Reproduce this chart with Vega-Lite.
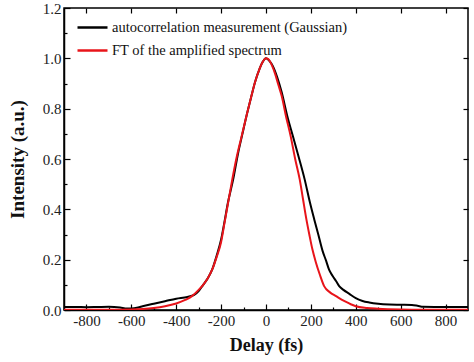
{
  "$schema": "https://vega.github.io/schema/vega-lite/v6.json",
  "width": 404,
  "height": 302,
  "autosize": "none",
  "padding": {"left": 64, "top": 8, "right": 6, "bottom": 52},
  "background": "white",
  "config": {
    "view": {"stroke": "black", "strokeWidth": 1.5},
    "font": "Liberation Serif",
    "axis": {"grid": false, "domainColor": "black", "domainWidth": 1.5, "tickColor": "black", "tickWidth": 1.2, "labelFont": "Liberation Serif", "labelColor": "#222", "titleFont": "Liberation Serif", "titleColor": "#111"}
  },
  "datasets": {
    "ac": [
      {"t": -900, "v": 0.012}, {"t": -850, "v": 0.012}, {"t": -800, "v": 0.011}, {"t": -750, "v": 0.012}, {"t": -700, "v": 0.013},
      {"t": -650, "v": 0.010}, {"t": -620, "v": 0.006}, {"t": -600, "v": 0.006}, {"t": -570, "v": 0.010}, {"t": -550, "v": 0.015},
      {"t": -500, "v": 0.025}, {"t": -450, "v": 0.035}, {"t": -400, "v": 0.045}, {"t": -350, "v": 0.052}, {"t": -320, "v": 0.060},
      {"t": -300, "v": 0.075}, {"t": -280, "v": 0.100}, {"t": -260, "v": 0.125}, {"t": -240, "v": 0.160}, {"t": -220, "v": 0.215},
      {"t": -200, "v": 0.280}, {"t": -185, "v": 0.350}, {"t": -170, "v": 0.425}, {"t": -146, "v": 0.520}, {"t": -125, "v": 0.620},
      {"t": -105, "v": 0.700}, {"t": -86, "v": 0.775}, {"t": -65, "v": 0.850}, {"t": -49, "v": 0.905}, {"t": -30, "v": 0.955},
      {"t": -15, "v": 0.985}, {"t": 0, "v": 1.0}, {"t": 15, "v": 0.99}, {"t": 30, "v": 0.97}, {"t": 50, "v": 0.925},
      {"t": 70, "v": 0.865}, {"t": 95, "v": 0.77}, {"t": 120, "v": 0.69}, {"t": 145, "v": 0.61}, {"t": 172, "v": 0.52},
      {"t": 195, "v": 0.43}, {"t": 215, "v": 0.36}, {"t": 233, "v": 0.30}, {"t": 252, "v": 0.235}, {"t": 268, "v": 0.195},
      {"t": 281, "v": 0.16}, {"t": 297, "v": 0.135}, {"t": 312, "v": 0.115}, {"t": 326, "v": 0.095}, {"t": 345, "v": 0.08},
      {"t": 370, "v": 0.065}, {"t": 400, "v": 0.047}, {"t": 430, "v": 0.036}, {"t": 460, "v": 0.030}, {"t": 500, "v": 0.025},
      {"t": 550, "v": 0.022}, {"t": 600, "v": 0.021}, {"t": 650, "v": 0.020}, {"t": 675, "v": 0.017}, {"t": 700, "v": 0.013},
      {"t": 800, "v": 0.012}, {"t": 900, "v": 0.012}
    ],
    "ft": [
      {"t": -900, "v": 0.001}, {"t": -800, "v": 0.001}, {"t": -700, "v": 0.001}, {"t": -600, "v": 0.002}, {"t": -550, "v": 0.004},
      {"t": -500, "v": 0.008}, {"t": -450, "v": 0.015}, {"t": -400, "v": 0.026}, {"t": -360, "v": 0.040}, {"t": -330, "v": 0.055},
      {"t": -300, "v": 0.080}, {"t": -280, "v": 0.100}, {"t": -260, "v": 0.125}, {"t": -240, "v": 0.160}, {"t": -220, "v": 0.210},
      {"t": -200, "v": 0.270}, {"t": -185, "v": 0.345}, {"t": -170, "v": 0.420}, {"t": -150, "v": 0.520}, {"t": -130, "v": 0.610},
      {"t": -110, "v": 0.685}, {"t": -86, "v": 0.775}, {"t": -65, "v": 0.850}, {"t": -49, "v": 0.905}, {"t": -30, "v": 0.955},
      {"t": -15, "v": 0.985}, {"t": 0, "v": 1.0}, {"t": 10, "v": 0.997}, {"t": 25, "v": 0.975}, {"t": 40, "v": 0.94},
      {"t": 55, "v": 0.895}, {"t": 70, "v": 0.85}, {"t": 89, "v": 0.77}, {"t": 110, "v": 0.69}, {"t": 130, "v": 0.60},
      {"t": 150, "v": 0.52}, {"t": 165, "v": 0.44}, {"t": 180, "v": 0.36}, {"t": 193, "v": 0.30}, {"t": 207, "v": 0.24},
      {"t": 222, "v": 0.19}, {"t": 240, "v": 0.14}, {"t": 259, "v": 0.095}, {"t": 285, "v": 0.07}, {"t": 312, "v": 0.055},
      {"t": 326, "v": 0.047}, {"t": 350, "v": 0.035}, {"t": 380, "v": 0.022}, {"t": 400, "v": 0.015}, {"t": 450, "v": 0.008},
      {"t": 500, "v": 0.005}, {"t": 600, "v": 0.002}, {"t": 700, "v": 0.001}, {"t": 900, "v": 0.001}
    ]
  },
  "layer": [
    {
      "data": {"name": "ac"},
      "transform": [{"calculate": "'autocorrelation measurement (Gaussian)'", "as": "series"}],
      "mark": {"type": "line", "strokeWidth": 2, "interpolate": "monotone", "clip": true},
      "encoding": {
        "x": {"field": "t", "type": "quantitative", "scale": {"domain": [-900, 900], "nice": false},
          "axis": {"orient": "bottom", "title": "Delay (fs)", "titleFontSize": 18, "titleFontWeight": "bold", "titlePadding": 8,
            "values": [-800, -700, -600, -500, -400, -300, -200, -100, 0, 100, 200, 300, 400, 500, 600, 700, 800],
            "labelExpr": "datum.value % 200 === 0 ? '' + datum.value : ''", "labelFontSize": 15, "labelPadding": 9,
            "tickSize": {"condition": {"test": "datum.value % 200 === 0", "value": -6}, "value": -3}}},
        "y": {"field": "v", "type": "quantitative", "scale": {"domain": [0, 1.2], "nice": false},
          "axis": {"orient": "left", "title": "Intensity (a.u.)", "titleFontSize": 19, "titleFontWeight": "bold", "titlePadding": 15,
            "values": [0, 0.1, 0.2, 0.3, 0.4, 0.5, 0.6, 0.7, 0.8, 0.9, 1.0, 1.1, 1.2], "format": ".1f",
            "labelExpr": "round(datum.value * 10) % 2 === 0 ? datum.label : ''", "labelFontSize": 15, "labelPadding": 9,
            "tickSize": {"condition": {"test": "round(datum.value * 10) % 2 === 0", "value": -6}, "value": -3}}},
        "color": {"field": "series", "type": "nominal",
          "scale": {"domain": ["autocorrelation measurement (Gaussian)", "FT of the amplified spectrum"], "range": ["#000000", "#e8141a"]},
          "legend": {"orient": "none", "legendX": 12, "legendY": 3, "title": null, "symbolType": "stroke", "symbolStrokeWidth": 2.5,
            "symbolSize": 900, "labelFont": "Liberation Serif", "labelFontSize": 14.5, "labelColor": "#111", "labelLimit": 0,
            "rowPadding": -12, "labelOffset": 3}}
      }
    },
    {
      "data": {"name": "ft"},
      "transform": [{"calculate": "'FT of the amplified spectrum'", "as": "series"}],
      "mark": {"type": "line", "strokeWidth": 2, "interpolate": "monotone", "clip": true},
      "encoding": {
        "x": {"field": "t", "type": "quantitative",
          "axis": {"orient": "top", "title": null, "labels": false, "domain": false,
            "values": [-800, -600, -400, -200, 0, 200, 400, 600, 800], "tickSize": -5}},
        "y": {"field": "v", "type": "quantitative",
          "axis": {"orient": "right", "title": null, "labels": false, "domain": false,
            "values": [0, 0.2, 0.4, 0.6, 0.8, 1.0, 1.2], "tickSize": -5}},
        "color": {"field": "series", "type": "nominal"}
      }
    }
  ],
  "resolve": {"axis": {"x": "independent", "y": "independent"}}
}
